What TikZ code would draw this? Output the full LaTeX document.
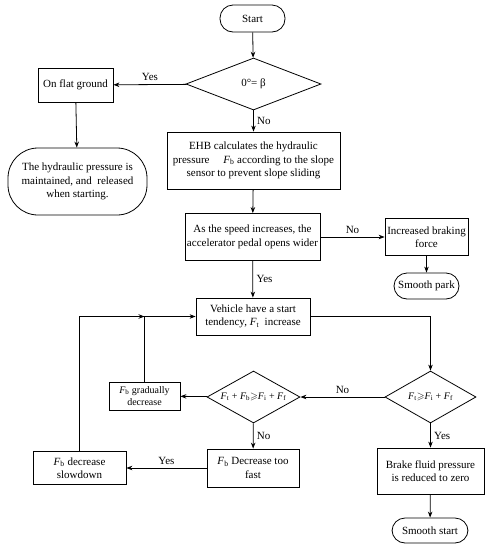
\documentclass[tikz,border=0pt]{standalone}
\usepackage{amssymb}
\usepackage{fontspec}
\setmainfont{Liberation Serif}
\usetikzlibrary{shapes.geometric,arrows.meta}

\newcommand{\Fsub}[1]{\textit{F}\textsubscript{#1}}

\tikzset{
    box/.style={draw, line width=.8pt, align=center, inner sep=1pt, font=\fontsize{11}{13.5}\selectfont},
    term/.style={box, rounded corners=13pt},
    decision/.style={draw, diamond, line width=.8pt, inner sep=0pt},
    flow/.style={line width=.8pt, -{Stealth[length=6pt, width=4.5pt]}},
    lbl/.style={font=\fontsize{11}{13}\selectfont},
    cond/.style={font=\fontsize{10}{12}\selectfont, inner sep=0pt},
}

\begin{document}
\begin{tikzpicture}[x=1pt, y=-1pt]
        \useasboundingbox (0,0) rectangle (491,550);

        % main column
        \node[term, minimum width=65, minimum height=27] (start) at (252.5,18.5) {Start};
        \node[decision, minimum width=135, minimum height=52] (beta) at (253.5,84) {};
        \node[cond, font=\fontsize{11}{13}\selectfont] (betatext) at (beta) {0°= β};
        \node[box, minimum width=173, minimum height=57] (ehb) at (253.5,160.5) {EHB calculates the hydraulic\\pressure \quad\Fsub{b} according to the slope\\sensor to prevent slope sliding};
        \node[box, minimum width=135, minimum height=47] (speed) at (252.5,237) {As the speed increases, the\\accelerator pedal opens wider};
        \node[box, minimum width=114, minimum height=37] (vehicle) at (253,316.5) {Vehicle have a start\\tendency, \Fsub{t}\ \ increase};

        % flat ground branch
        \node[box, minimum width=75, minimum height=34] (flat) at (75.5,85) {On flat ground};
        \node[box, rounded corners=30pt, minimum width=139, minimum height=67] (hold) at (77.5,181.5) {The hydraulic pressure is\\maintained, and\ \ released\\when starting.};

        % braking branch
        \node[box, minimum width=83, minimum height=37] (brake) at (426.5,237) {Increased braking\\force};
        \node[term, minimum width=65, minimum height=26] (park) at (426.5,286) {Smooth park};

        % release loop
        \node[decision, minimum width=91, minimum height=52] (cond1) at (430.5,397) {};
        \node[cond] (cond1text) at (cond1) {\Fsub{t}$\geqslant$\Fsub{i} + \Fsub{f}};
        \node[decision, minimum width=93, minimum height=52] (cond2) at (253.5,397) {};
        \node[cond] (cond2text) at (cond2) {\Fsub{t} + \Fsub{b}$\geqslant$\Fsub{i} + \Fsub{f}};
        \node[box, font=\fontsize{10}{12.5}\selectfont, minimum width=71, minimum height=28] (gradual) at (144.5,396) {\Fsub{b} gradually\\decrease};
        \node[box, minimum width=92, minimum height=38] (fast) at (253,468) {\Fsub{b} Decrease too\\fast};
        \node[box, minimum width=93, minimum height=33] (slow) at (79.5,468) {\Fsub{b} decrease\\slowdown};
        \node[box, minimum width=107, minimum height=46] (fluid) at (430.5,471) {Brake fluid pressure\\is reduced to zero};
        \node[term, minimum width=76, minimum height=25] (sstart) at (430,530.5) {Smooth start};

        \coordinate (join) at (gradual.north |- vehicle.west);

        \draw[flow] (start) -- (beta);
        \draw[flow] (beta) -- node[lbl, above] {Yes} (flat);
        \draw[flow] (beta) -- node[lbl, right] {No} (ehb);
        \draw[flow] (flat) -- (hold);
        \draw[flow] (ehb) -- (speed);
        \draw[flow] (speed) -- node[lbl, above] {No} (brake);
        \draw[flow] (brake) -- (park);
        \draw[flow] (speed) -- node[lbl, right] {Yes} (vehicle);
        \draw[flow] (vehicle.east) -| (cond1.north);
        \draw[flow] (cond1) -- node[lbl, above] {No} (cond2);
        \draw[flow] (cond1) -- node[lbl, right] {Yes} (fluid);
        \draw[flow] (fluid) -- (sstart);
        \draw[flow] (cond2) -- (gradual);
        \draw[flow] (cond2) -- node[lbl, right] {No} (fast);
        \draw[flow] (fast) -- node[lbl, above] {Yes} (slow);
        \draw[flow] (gradual.north) |- (vehicle.west);
        \draw[flow] (slow.north) |- (join);
\end{tikzpicture}
\end{document}
